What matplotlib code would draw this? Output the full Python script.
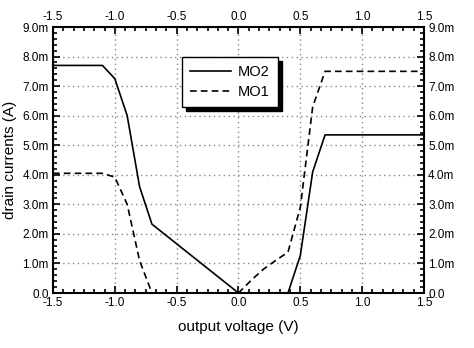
import numpy as np
import matplotlib
matplotlib.use("Agg")
import matplotlib.pyplot as plt
from matplotlib.ticker import MultipleLocator, AutoMinorLocator, FuncFormatter

matplotlib.rcParams.update({
    'font.family': ['Liberation Sans', 'DejaVu Sans'],
    'font.size': 8,
})

# output voltage (V) / drain current (mA)
vout_mo2 = [-1.5, -1.1, -1.0, -0.9, -0.8, -0.7, 0.0, 0.4, 0.5, 0.6, 0.7, 1.5]
id_mo2 = [7.7, 7.7, 7.25, 6.0, 3.6, 2.33, 0.0, 0.0, 1.27, 4.1, 5.35, 5.35]

vout_mo1 = [-1.5, -1.1, -1.0, -0.9, -0.8, -0.7, 0.0, 0.1, 0.2, 0.3, 0.4, 0.5, 0.6, 0.7, 1.5]
id_mo1 = [4.05, 4.05, 3.92, 3.0, 1.1, 0.0, 0.0, 0.42, 0.8, 1.1, 1.38, 2.9, 6.3, 7.5, 7.5]

fig = plt.figure(figsize=(4.74, 3.48), dpi=100)
ax = fig.add_axes([0.1118, 0.158, 0.7827, 0.7644])

ax.plot(vout_mo2, id_mo2, color='black', lw=1.2, label='MO2')
ax.plot(vout_mo1, id_mo1, color='black', lw=1.2, ls=(0, (4, 2.5)), label='MO1')

ax.set_xlim(-1.5, 1.5)
ax.set_ylim(0, 9)
ax.xaxis.set_major_locator(MultipleLocator(0.5))
ax.xaxis.set_minor_locator(AutoMinorLocator(6))
ax.yaxis.set_major_locator(MultipleLocator(1.0))
ax.yaxis.set_minor_locator(AutoMinorLocator(5))

def ma_fmt(v, pos):
    if abs(v) < 1e-9:
        return "0.0"
    return "%.1fm" % v

ax.yaxis.set_major_formatter(FuncFormatter(ma_fmt))
ax.xaxis.set_major_formatter(FuncFormatter(lambda v, p: "%.1f" % v))

ax.tick_params(which='both', direction='in', top=True, right=True,
               labeltop=True, labelright=True, width=1.2, labelsize=8.5, pad=3)
ax.tick_params(which='major', length=5)
ax.tick_params(which='minor', length=3)
for s in ax.spines.values():
    s.set_linewidth(1.5)

ax.grid(True, which='major', color='#888888', ls=(0, (1, 2.5)), lw=1.0)

ax.set_xlabel("output voltage (V)", fontsize=11, labelpad=8)
ax.set_ylabel("drain currents (A)", fontsize=11, labelpad=4)

leg = ax.legend(loc='upper left', bbox_to_anchor=(0.347, 0.887), borderaxespad=0,
                fancybox=False, edgecolor='black', framealpha=1, fontsize=10.5,
                handlelength=2.8, handletextpad=0.5, borderpad=0.55, labelspacing=0.4,
                shadow={'color': 'black', 'alpha': 1, 'ox': 3, 'oy': -3})
leg.get_frame().set_linewidth(1.0)

fig.savefig("out.png", dpi=100)
